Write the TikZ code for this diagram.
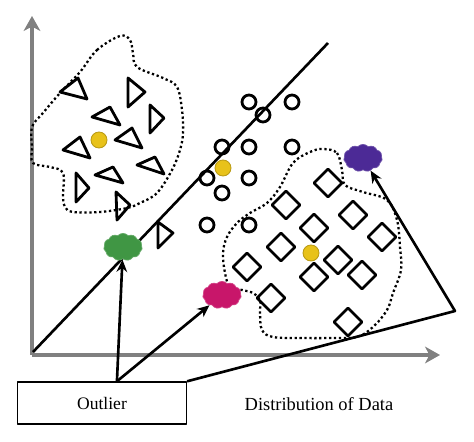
\documentclass[tikz,border=0pt]{standalone}
\usepackage{fontspec}
\setmainfont{Liberation Serif}
\usetikzlibrary{arrows.meta, shapes.symbols}

\definecolor{axisgray}{RGB}{128,128,128}
\definecolor{dotyellow}{RGB}{232,194,26}
\definecolor{outgreen}{RGB}{64,150,68}
\definecolor{outpink}{RGB}{200,22,106}
\definecolor{outpurple}{RGB}{76,42,150}

\tikzset{
    axis/.style={axisgray, line width=2pt, -{Stealth[length=8.5pt,width=9.5pt,inset=2.5pt]}},
    pts/.style={line width=1.6pt},
    blob/.style={line width=1.3pt, dash pattern=on 1.3pt off 1.5pt},
    arr/.style={line width=1.5pt, -{Stealth[length=7pt,width=6pt]}},
    outcloud/.style={cloud, cloud puffs=11, cloud puff arc=95, aspect=1.45, inner sep=0pt, minimum width=22pt, minimum height=15.5pt}
}

\begin{document}
\begin{tikzpicture}[x=0.02cm, y=-0.02cm, line join=round]
        \useasboundingbox (0,0) rectangle (474,442);

        \coordinate (O) at (32,355);
        \draw[axis] (O) -- (32,16);
        \draw[axis] (O) -- (440,355);
        \draw[line width=1.5pt] (33,352) -- (328,43);

        % clusters
        \draw[blob] plot[smooth cycle, tension=0.6] coordinates {(80,72) (97,50) (120,36) (130,40) (133,53) (137,67) (163,78) (177,87) (182,110) (183,133) (180,150) (172,170) (157,193) (140,203) (127,208) (100,212) (73,212) (65,207) (63,197) (63,173) (50,167) (33,163) (32,147) (32,127) (43,113) (60,93)};
        \draw[blob] plot[smooth cycle, tension=0.6] coordinates {(323,149) (337,153) (342,170) (345,185) (363,192) (387,200) (397,220) (400,247) (401,270) (393,293) (387,310) (373,327) (357,337) (333,338) (300,338) (273,337) (262,330) (260,313) (260,300) (253,293) (242,290) (230,287) (225,273) (223,253) (227,237) (237,223) (250,213) (267,203) (280,187) (293,163) (310,152)};

        \draw[pts] (60,92) -- (78,78) -- (87,99) -- cycle
                   (128,78) -- (145,92) -- (128,107) -- cycle
                   (92,117) -- (110,107) -- (120,125) -- cycle
                   (150,105) -- (164,118) -- (150,133) -- cycle
                   (63,150) -- (80,137) -- (90,158) -- cycle
                   (115,140) -- (132,128) -- (142,148) -- cycle
                   (137,165) -- (155,157) -- (164,174) -- cycle
                   (95,175) -- (113,167) -- (123,183) -- cycle
                   (76,173) -- (89,188) -- (76,202) -- cycle
                   (116,192) -- (130,205) -- (117,220) -- cycle
                   (158,222) -- (173,233) -- (158,248) -- cycle;

        \draw[pts] (249,102) circle (7) (292,102) circle (7) (263,115) circle (7)
                   (222,147) circle (7) (249,147) circle (7) (292,147) circle (7)
                   (207,178) circle (7) (249,178) circle (7) (222,193) circle (7)
                   (207,225) circle (7) (249,225) circle (7);

        \draw[pts] (328,183) ++(0,-14) -- ++(14,14) -- ++(-14,14) -- ++(-14,-14) -- cycle
                   (286,205) ++(0,-14) -- ++(14,14) -- ++(-14,14) -- ++(-14,-14) -- cycle
                   (353,215) ++(0,-14) -- ++(14,14) -- ++(-14,14) -- ++(-14,-14) -- cycle
                   (314,228) ++(0,-14) -- ++(14,14) -- ++(-14,14) -- ++(-14,-14) -- cycle
                   (382,237) ++(0,-14) -- ++(14,14) -- ++(-14,14) -- ++(-14,-14) -- cycle
                   (281,247) ++(0,-14) -- ++(14,14) -- ++(-14,14) -- ++(-14,-14) -- cycle
                   (247,267) ++(0,-14) -- ++(14,14) -- ++(-14,14) -- ++(-14,-14) -- cycle
                   (338,260) ++(0,-14) -- ++(14,14) -- ++(-14,14) -- ++(-14,-14) -- cycle
                   (362,275) ++(0,-14) -- ++(14,14) -- ++(-14,14) -- ++(-14,-14) -- cycle
                   (314,277) ++(0,-14) -- ++(14,14) -- ++(-14,14) -- ++(-14,-14) -- cycle
                   (271,298) ++(0,-14) -- ++(14,14) -- ++(-14,14) -- ++(-14,-14) -- cycle
                   (348,322) ++(0,-14) -- ++(14,14) -- ++(-14,14) -- ++(-14,-14) -- cycle;

        % centroids
        \filldraw[fill=dotyellow, draw=dotyellow!80!black, line width=0.5pt] (99,140) circle (8);
        \filldraw[fill=dotyellow, draw=dotyellow!80!black, line width=0.5pt] (223,168) circle (8);
        \filldraw[fill=dotyellow, draw=dotyellow!80!black, line width=0.5pt] (311,253) circle (8);

        % outliers
        \node[outcloud, fill=outgreen, draw=outgreen!80!white] (green) at (123,247) {};
        \node[outcloud, fill=outpink, draw=outpink!80!white] (pink) at (222,295) {};
        \node[outcloud, fill=outpurple, draw=outpurple!80!white] (purple) at (363,158) {};

        \node[draw, line width=0.9pt, minimum width=96pt, minimum height=23.8pt] (outlier) at (102,403) {Outlier};
        \node[font=\fontsize{10.5}{12}\selectfont] (dist) at (319,404) {Distribution of Data};

        \coordinate (S) at ([xshift=8.5pt]outlier.north);
        \coordinate (T) at (455,311);
        \draw[arr] (S) -- (green);
        \draw[arr] (S) -- (pink);
        \draw[arr] (outlier.north east) -- (T) -- (purple);
    \end{tikzpicture}
\end{document}
